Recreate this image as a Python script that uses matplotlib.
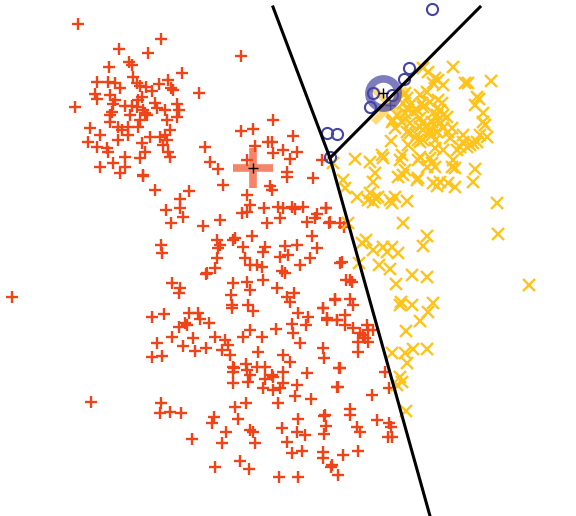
import numpy as np
import matplotlib
matplotlib.use("Agg")
import matplotlib.pyplot as plt

# cluster 0 (orange, '+') - pixel-like data coordinates, y grows downward
orange_x = [78, 161, 119, 148, 241, 129, 132, 109, 182, 97, 108, 115, 120, 133, 137, 140, 146, 152,
            168, 159, 171, 173, 199, 95, 97, 110, 115, 113, 142, 138, 75, 125, 132, 137, 143, 147,
            155, 157, 165, 177, 179, 177, 110, 130, 112, 110, 140, 145, 138, 167, 170, 90, 100, 97,
            88, 107, 108, 118, 122, 128, 118, 128, 150, 142, 145, 140, 160, 165, 167, 163, 168, 170,
            125, 125, 113, 100, 120, 143, 205,
            273, 241, 253, 293, 255, 268, 272, 273, 283, 297, 290, 247, 210, 218, 287, 287, 313, 143,
            155, 189, 223, 180, 180, 183, 166, 171, 203, 220, 247, 250, 242, 247, 264, 270, 272, 267,
            278, 283, 292, 295, 303, 280, 326, 317, 315, 307, 330, 312, 217, 220, 218, 235, 233, 252,
            243, 265, 263, 285, 297, 317, 161, 162, 217, 245, 250, 257, 262, 280, 288, 310, 300, 282,
            285, 215, 207, 340, 322,
            172, 180, 179, 206, 233, 247, 250, 263, 277, 287, 290, 294, 231, 232, 232, 248, 253, 152,
            164, 189, 198, 200, 209, 179, 185, 187, 172, 193, 183, 157, 215, 225, 228, 222, 230, 206,
            195, 152, 162, 250, 243, 262, 276, 298, 308, 306, 292, 293, 300, 323, 335, 327, 337, 323,
            324, 258, 283, 290, 233, 234, 233, 246, 247, 257, 265, 250, 272, 273, 265, 283, 307, 233,
            248, 263, 273, 280, 283, 297, 295, 311, 337, 340,
            161, 160, 170, 181, 192, 214, 212, 226, 222, 235, 246, 238, 250, 253, 255, 240, 249, 215,
            278, 282, 287, 297, 298, 305, 292, 302, 279, 298, 324, 326, 324, 323, 323, 332, 331, 338,
            343, 350, 350, 357, 360, 358, 372, 377, 389, 391, 388, 392,
            326, 329, 340, 344, 342, 346, 350, 352, 335, 350, 353, 323, 327, 337, 345, 345, 353, 367,
            368, 360, 363, 365, 368, 358, 373, 358, 339, 385, 389, 338, 325, 12, 91]
orange_y = [24, 39, 49, 53, 56, 62, 65, 67, 73, 82, 82, 83, 88, 77, 83, 86, 87, 91,
            80, 84, 88, 90, 93, 94, 99, 95, 100, 104, 97, 100, 107, 106, 106, 107, 110, 115,
            103, 108, 110, 104, 110, 117, 115, 115, 112, 122, 120, 113, 127, 120, 130, 128, 135, 147,
            142, 148, 152, 140, 130, 127, 127, 135, 137, 143, 152, 158, 137, 135, 140, 145, 152, 157,
            157, 167, 163, 167, 173, 175, 147,
            120, 131, 129, 136, 146, 142, 142, 153, 150, 152, 159, 160, 162, 169, 172, 177, 178, 176,
            190, 191, 185, 199, 208, 217, 210, 223, 226, 220, 195, 205, 213, 212, 208, 186, 190, 223,
            207, 208, 207, 209, 207, 218, 208, 214, 218, 222, 222, 236, 240, 245, 248, 238, 240, 236,
            247, 247, 252, 246, 245, 248, 245, 253, 258, 258, 265, 265, 267, 257, 255, 258, 265, 271,
            273, 268, 273, 263, 160,
            283, 288, 293, 274, 283, 282, 290, 280, 288, 297, 302, 293, 295, 305, 308, 305, 311, 317,
            314, 313, 313, 319, 323, 327, 323, 325, 337, 338, 346, 343, 337, 340, 345, 350, 355, 348,
            351, 357, 356, 330, 337, 337, 329, 313, 317, 325, 324, 333, 343, 308, 300, 320, 320, 348,
            358, 352, 355, 362, 367, 368, 372, 364, 370, 367, 367, 375, 375, 377, 379, 372, 373, 383,
            382, 388, 390, 388, 383, 385, 396, 399, 387, 368,
            403, 413, 412, 413, 439, 417, 423, 432, 443, 407, 403, 419, 430, 432, 443, 461, 469, 467,
            403, 428, 442, 432, 419, 435, 453, 451, 477, 477, 416, 426, 434, 452, 458, 465, 467, 475,
            455, 409, 415, 427, 432, 451, 395, 420, 423, 427, 437, 437,
            208, 223, 223, 227, 262, 280, 280, 282, 299, 299, 305, 308, 318, 320, 315, 325, 328, 325,
            330, 333, 335, 338, 342, 342, 330, 352, 368, 372, 388, 387, 415, 297, 402]

# cluster 1 (yellow, 'x')
yellow_x = [453, 423, 428, 491, 435, 438, 443, 433, 465, 468, 420, 427, 405, 407, 403, 410, 408,
            413, 417, 430, 438, 442, 440, 422, 423, 477, 479, 475, 483, 483, 485, 433, 437, 438, 432,
            443, 447, 405, 397, 393, 402, 410, 407, 410, 395, 392, 420, 422, 420, 423, 427, 430, 432,
            437, 435, 417, 418, 423, 420, 440, 443, 448, 450, 452, 463, 463, 467, 460, 457, 470, 473,
            477, 480, 487, 391, 408, 435, 443, 402, 400, 420, 418, 430, 432, 427, 435, 453, 452, 455,
            475, 355, 370, 382, 383, 375, 373, 343, 345, 398, 403, 405, 418, 417, 433, 437, 440, 448,
            455, 473, 357, 370, 375, 378, 368, 373, 390, 395, 392, 407, 497, 333,
            348, 403, 498, 427, 423, 362, 366, 373, 383, 387, 392, 398, 359, 379, 390, 412, 427, 396,
            529, 401, 400, 412, 433, 428, 420, 406, 392, 405, 413, 427, 407, 400, 402, 397, 406]
yellow_y = [67, 68, 72, 81, 78, 80, 85, 83, 83, 83, 95, 92, 93, 98, 103, 105, 110,
            112, 110, 102, 100, 103, 110, 103, 107, 97, 99, 105, 113, 122, 125, 113, 115, 120, 122,
            115, 117, 113, 115, 120, 122, 123, 132, 133, 128, 122, 118, 123, 127, 130, 125, 130, 135,
            132, 140, 135, 140, 140, 142, 123, 128, 132, 138, 128, 135, 142, 147, 147, 150, 145, 143,
            142, 135, 137, 141, 145, 148, 150, 155, 160, 157, 160, 158, 163, 167, 167, 160, 167, 168,
            169, 159, 162, 155, 158, 173, 182, 180, 188, 177, 175, 170, 178, 180, 183, 186, 182, 183,
            187, 182, 197, 193, 198, 197, 200, 202, 200, 197, 203, 201, 203, 163,
            223, 223, 234, 236, 246, 243, 240, 250, 247, 252, 247, 253, 263, 265, 269, 275, 277, 284,
            285, 302, 305, 305, 303, 312, 321, 331, 353, 353, 349, 349, 363, 377, 382, 385, 411]

# cluster 2 (blue, 'o')
blue_x = [432, 409, 404, 373, 392, 370, 327, 337, 330]
blue_y = [9, 68, 79, 93, 95, 107, 133, 134, 157]

# centroids
cent_x = [253, 383, 390]
cent_y = [168, 93, 105]

# decision boundaries
bound1_x = [273, 330, 430]
bound1_y = [7, 158, 516]
bound2_x = [330, 480]
bound2_y = [158, 7]

c_orange = '#f04318'
c_yellow = '#fec41c'
c_blue = '#4545a5'

fig = plt.figure(figsize=(5.76, 5.16), dpi=100)
ax = fig.add_axes([0, 0, 1, 1])

# big translucent centroid markers
ax.plot(cent_x[0], cent_y[0], '+', color=c_orange, alpha=0.65, ms=29, mew=5.5, zorder=1)
ax.plot(cent_x[2], cent_y[2], 'x', color=c_yellow, alpha=0.6, ms=24, mew=5, zorder=1)

ax.plot(orange_x, orange_y, '+', color=c_orange, ms=9, mew=1.7, linestyle='none', zorder=2)
ax.plot(yellow_x, yellow_y, 'x', color=c_yellow, ms=8, mew=1.7, linestyle='none', zorder=2)
ax.plot(blue_x, blue_y, 'o', mfc='none', mec=c_blue, ms=8, mew=1.5, linestyle='none', zorder=3)

ax.plot(cent_x[1], cent_y[1], 'o', mfc='none', mec=c_blue, alpha=0.7, ms=21, mew=5.5, zorder=3)

ax.plot(bound1_x, bound1_y, '-', color='black', lw=2.2, zorder=4)
ax.plot(bound2_x, bound2_y, '-', color='black', lw=2.2, zorder=4)

# small centroid crosses
ax.plot(cent_x[:2], cent_y[:2], '+', color='black', ms=7, mew=1, linestyle='none', zorder=5)
ax.plot(cent_x[2], cent_y[2], '+', color=c_blue, ms=7, mew=1, zorder=5)

ax.set_xlim(0, 576)
ax.set_ylim(516, 0)
ax.axis('off')

plt.savefig('out.png', dpi=100)
